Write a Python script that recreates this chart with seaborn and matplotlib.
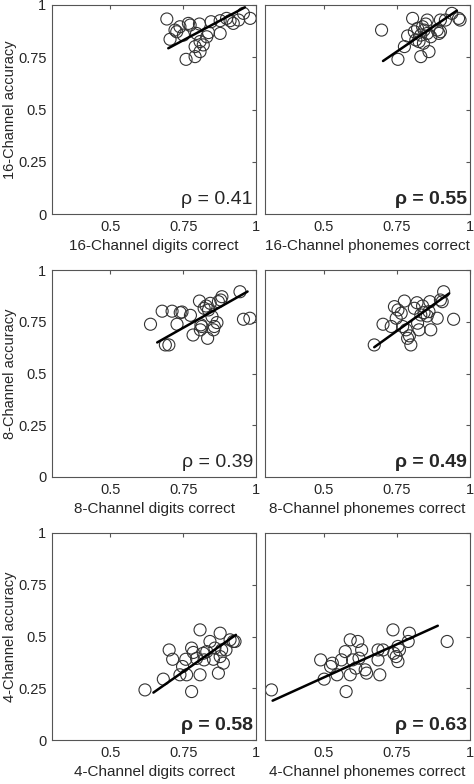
import numpy as np
import pandas as pd
import matplotlib
matplotlib.use("Agg")
import matplotlib.pyplot as plt
import seaborn as sns

sns.set_style("white")
plt.rcParams['font.family'] = ['Liberation Sans', 'DejaVu Sans']

# 16-channel
d16_x = [0.694, 0.705, 0.722, 0.728, 0.739, 0.751, 0.768, 0.774, 0.760, 0.791, 0.791, 0.796, 0.806, 0.808,
         0.819, 0.808, 0.831, 0.837, 0.846, 0.877, 0.877, 0.899, 0.911, 0.922, 0.940, 0.957, 0.980]
d16_y = [0.933, 0.836, 0.880, 0.872, 0.896, 0.856, 0.912, 0.904, 0.740, 0.753, 0.801, 0.864, 0.909, 0.825,
         0.809, 0.777, 0.848, 0.868, 0.920, 0.864, 0.925, 0.936, 0.925, 0.912, 0.928, 0.960, 0.936]
p16_x = [0.698, 0.754, 0.776, 0.787, 0.804, 0.810, 0.815, 0.821, 0.826, 0.832, 0.838, 0.832, 0.841, 0.843,
         0.849, 0.854, 0.854, 0.860, 0.866, 0.888, 0.894, 0.899, 0.916, 0.938, 0.966, 0.961, 0.899]
p16_y = [0.880, 0.740, 0.801, 0.852, 0.936, 0.872, 0.833, 0.888, 0.825, 0.856, 0.896, 0.753, 0.817, 0.880,
         0.909, 0.864, 0.928, 0.777, 0.848, 0.880, 0.864, 0.928, 0.928, 0.960, 0.928, 0.936, 0.872]
# 8-channel
d8_x = [0.638, 0.678, 0.689, 0.701, 0.712, 0.729, 0.740, 0.746, 0.775, 0.784, 0.806, 0.809, 0.811, 0.814,
        0.822, 0.829, 0.834, 0.837, 0.843, 0.849, 0.854, 0.857, 0.866, 0.871, 0.879, 0.883, 0.945, 0.957, 0.979]
d8_y = [0.738, 0.801, 0.638, 0.638, 0.801, 0.738, 0.794, 0.797, 0.781, 0.686, 0.850, 0.711, 0.735, 0.727,
        0.815, 0.826, 0.670, 0.807, 0.839, 0.775, 0.711, 0.727, 0.746, 0.847, 0.855, 0.871, 0.895, 0.762, 0.767]
p8_x = [0.673, 0.703, 0.731, 0.742, 0.748, 0.754, 0.765, 0.770, 0.776, 0.782, 0.787, 0.793, 0.798, 0.810,
        0.819, 0.821, 0.826, 0.832, 0.838, 0.843, 0.854, 0.860, 0.863, 0.866, 0.888, 0.899, 0.910, 0.905, 0.944]
p8_y = [0.638, 0.738, 0.727, 0.823, 0.767, 0.807, 0.791, 0.727, 0.850, 0.711, 0.670, 0.682, 0.638, 0.815,
        0.842, 0.743, 0.711, 0.783, 0.826, 0.794, 0.778, 0.799, 0.847, 0.711, 0.767, 0.855, 0.895, 0.847, 0.762]
# 4-channel
d4_x = [0.619, 0.682, 0.702, 0.714, 0.739, 0.748, 0.759, 0.762, 0.779, 0.779, 0.785, 0.796, 0.808, 0.808,
        0.819, 0.822, 0.831, 0.842, 0.854, 0.859, 0.871, 0.877, 0.882, 0.888, 0.911, 0.922, 0.928, 0.897, 0.877]
d4_y = [0.242, 0.294, 0.435, 0.390, 0.315, 0.355, 0.390, 0.315, 0.444, 0.234, 0.423, 0.394, 0.532, 0.315,
        0.419, 0.387, 0.427, 0.476, 0.390, 0.444, 0.323, 0.516, 0.435, 0.371, 0.484, 0.476, 0.476, 0.435, 0.403]
p4_x = [0.322, 0.490, 0.502, 0.524, 0.530, 0.546, 0.561, 0.574, 0.577, 0.591, 0.591, 0.599, 0.610, 0.617,
        0.621, 0.630, 0.642, 0.647, 0.686, 0.686, 0.692, 0.703, 0.737, 0.740, 0.748, 0.754, 0.759, 0.754,
        0.789, 0.793, 0.922]
p4_y = [0.242, 0.387, 0.294, 0.355, 0.371, 0.315, 0.387, 0.427, 0.234, 0.484, 0.315, 0.387, 0.347, 0.476,
        0.395, 0.435, 0.339, 0.323, 0.435, 0.387, 0.315, 0.435, 0.532, 0.419, 0.403, 0.379, 0.435, 0.452,
        0.476, 0.516, 0.476]

# fitted line end points
fit_d16 = ([0.699, 0.962], [0.793, 0.989])
fit_p16 = ([0.703, 0.955], [0.732, 0.973])
fit_d8 = ([0.661, 0.971], [0.650, 0.896])
fit_p8 = ([0.673, 0.929], [0.627, 0.887])
fit_d4 = ([0.648, 0.931], [0.229, 0.508])
fit_p4 = ([0.326, 0.890], [0.190, 0.552])

panels = [
    [(d16_x, d16_y, fit_d16, "16-Channel digits correct", "ρ = 0.41", False),
     (p16_x, p16_y, fit_p16, "16-Channel phonemes correct", "ρ = 0.55", True)],
    [(d8_x, d8_y, fit_d8, "8-Channel digits correct", "ρ = 0.39", False),
     (p8_x, p8_y, fit_p8, "8-Channel phonemes correct", "ρ = 0.49", True)],
    [(d4_x, d4_y, fit_d4, "4-Channel digits correct", "ρ = 0.58", True),
     (p4_x, p4_y, fit_p4, "4-Channel phonemes correct", "ρ = 0.63", True)],
]
row_labels = ["16-Channel accuracy", "8-Channel accuracy", "4-Channel accuracy"]

fig = plt.figure(figsize=(4.74, 7.84), dpi=100)
W, H = 474, 784
col_px = [(52, 256), (265, 470)]
row_px = [(5, 214), (270, 477), (533, 740)]

for r in range(3):
    for c in range(2):
        xs, ys, fit, xlab, rho, bold = panels[r][c]
        x0, x1 = col_px[c]
        y0, y1 = row_px[r]
        ax = fig.add_axes([x0 / W, 1 - y1 / H, (x1 - x0) / W, (y1 - y0) / H])
        df = pd.DataFrame({"x": xs, "y": ys})
        sns.scatterplot(data=df, x="x", y="y", ax=ax, s=75, facecolor="none",
                        edgecolor="#333333", linewidth=0.8)
        sns.lineplot(x=fit[0], y=fit[1], ax=ax, color="black", lw=1.8)
        ax.set_xlim(0.3, 1)
        ax.set_ylim(0, 1)
        ax.set_xticks([0.5, 0.75, 1])
        ax.set_xticklabels(["0.5", "0.75", "1"])
        ax.set_yticks([0, 0.25, 0.5, 0.75, 1])
        ax.tick_params(direction="in", length=3, labelsize=10.5, top=True, right=True,
                       color="#555555", pad=4)
        if c == 0:
            ax.set_yticklabels(["0", "0.25", "0.5", "0.75", "1"])
            ax.set_ylabel(row_labels[r], fontsize=10.5, labelpad=1)
        else:
            ax.set_yticklabels([])
            ax.set_ylabel("")
        ax.set_xlabel(xlab, fontsize=11, labelpad=4)
        for s in ax.spines.values():
            s.set_color("#555555")
            s.set_linewidth(0.8)
        ax.text(0.985, 0.03, rho, transform=ax.transAxes, ha="right", va="bottom",
                fontsize=14, fontweight="bold" if bold else "normal")

fig.savefig("out.png", dpi=100)
